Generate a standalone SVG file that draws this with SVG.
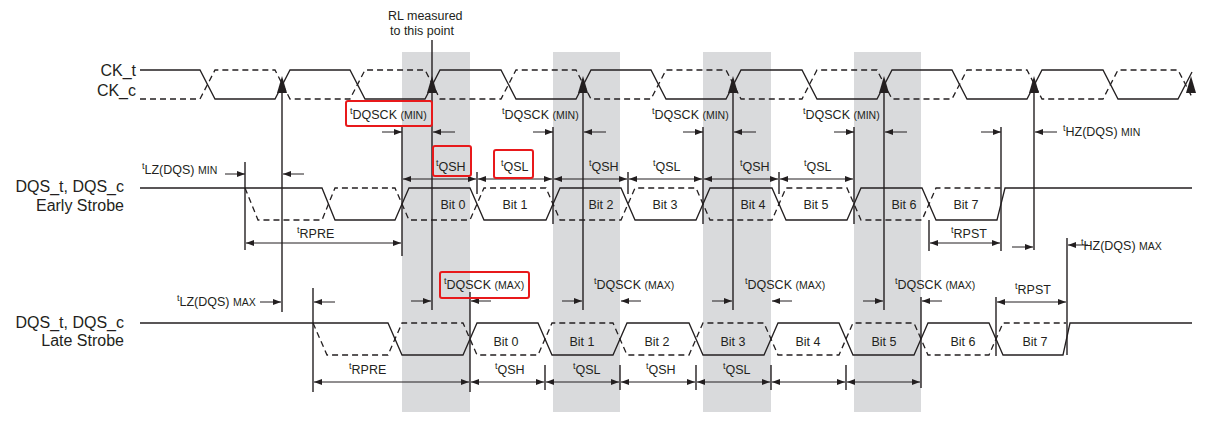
<svg xmlns="http://www.w3.org/2000/svg" width="1225" height="427" viewBox="0 0 1225 427">
<style>
text{font-family:"Liberation Sans",Arial,sans-serif;fill:#231f20;font-size:12.5px}
.lbl{font-size:16px}
.s{font-size:9px}
.m{font-size:10.5px}
.w{fill:none;stroke:#231f20;stroke-width:1.3}
.d{fill:none;stroke:#231f20;stroke-width:1.3;stroke-dasharray:6,4}
.v{stroke:#231f20;stroke-width:1.4}
.a{stroke:#231f20;stroke-width:1;marker-end:url(#ah)}
.aa{stroke:#231f20;stroke-width:1;marker-end:url(#ah);marker-start:url(#ah)}
.sh{fill:#d9dadc}
.rb{fill:none;stroke:#e8191b;stroke-width:2}
</style>
<defs>
<marker id="ah" markerUnits="userSpaceOnUse" markerWidth="9" markerHeight="6" refX="8" refY="3" orient="auto-start-reverse"><path d="M0,0 L8,3 L0,6 z" fill="#231f20"/></marker>
</defs>
<g id="shading">
<rect class="sh" x="402" y="52" width="68" height="360"/>
<rect class="sh" x="553" y="52" width="67" height="360"/>
<rect class="sh" x="703" y="52" width="68" height="360"/>
<rect class="sh" x="854" y="52" width="67" height="360"/>
</g>
<g id="labels">
<text x="388" y="20" font-size="13">RL measured</text>
<text x="390" y="35" font-size="13">to this point</text>
<text class="lbl" x="136" y="76" text-anchor="end">CK_t</text>
<text class="lbl" x="136" y="96" text-anchor="end">CK_c</text>
<text class="lbl" x="124" y="192" text-anchor="end">DQS_t, DQS_c</text>
<text class="lbl" x="124" y="211" text-anchor="end">Early Strobe</text>
<text class="lbl" x="124" y="328" text-anchor="end">DQS_t, DQS_c</text>
<text class="lbl" x="124" y="346" text-anchor="end">Late Strobe</text>
</g>
<g id="ck">
<path class="w" d="M140,70 L200,70 L215,99 L275,99 L290,70 L350,70 L365,99 L425,99 L440,70 L501,70 L516,99 L576,99 L591,70 L651,70 L666,99 L726,99 L741,70 L802,70 L817,99 L877,99 L892,70 L952,70 L967,99 L1027,99 L1042,70 L1103,70 L1118,99 L1178,99 L1192,72"/>
<path class="d" d="M140,99 L200,99 L215,70 L275,70 L290,99 L350,99 L365,70 L425,70 L440,99 L501,99 L516,70 L576,70 L591,99 L651,99 L666,70 L726,70 L741,99 L802,99 L817,70 L877,70 L892,99 L952,99 L967,70 L1027,70 L1042,99 L1103,99 L1118,70 L1178,70 L1192,97"/>
</g>
<g id="early">
<path class="w" d="M140,188 L322,188 L335,220 L395,220 L409,188 L470,188 L484,220 L546,220 L560,188 L621,188 L635,220 L696,220 L710,188 L772,188 L786,220 L847,220 L861,188 L922,188 L936,220 L997,220 L1005,188 L1192,188"/>
<path class="d" d="M245,188 L258,220 L322,220 L335,188 L395,188 L409,220 L470,220 L484,188 L546,188 L560,220 L621,220 L635,188 L696,188 L710,220 L772,220 L786,188 L847,188 L861,220 L922,220 L936,188 L1001,188"/>
<text x="453" y="209" text-anchor="middle">Bit 0</text>
<text x="515" y="209" text-anchor="middle">Bit 1</text>
<text x="601" y="209" text-anchor="middle">Bit 2</text>
<text x="665" y="209" text-anchor="middle">Bit 3</text>
<text x="753" y="209" text-anchor="middle">Bit 4</text>
<text x="816" y="209" text-anchor="middle">Bit 5</text>
<text x="904" y="209" text-anchor="middle">Bit 6</text>
<text x="966" y="209" text-anchor="middle">Bit 7</text>
</g>
<g id="late">
<path class="w" d="M140,323 L388,323 L402,355 L463,355 L477,323 L538,323 L552,355 L613,355 L627,323 L689,323 L703,355 L764,355 L778,323 L839,323 L853,355 L914,355 L928,323 L989,323 L1003,355 L1063,355 L1070,323 L1192,323"/>
<path class="d" d="M313,323 L327,355 L388,355 L402,323 L463,323 L477,355 L538,355 L552,323 L613,323 L627,355 L689,355 L703,323 L764,323 L778,355 L839,355 L853,323 L914,323 L928,355 L989,355 L1003,323 L1066,323"/>
<text x="506" y="346" text-anchor="middle">Bit 0</text>
<text x="582" y="346" text-anchor="middle">Bit 1</text>
<text x="657" y="346" text-anchor="middle">Bit 2</text>
<text x="733" y="346" text-anchor="middle">Bit 3</text>
<text x="808" y="346" text-anchor="middle">Bit 4</text>
<text x="884" y="346" text-anchor="middle">Bit 5</text>
<text x="963" y="346" text-anchor="middle">Bit 6</text>
<text x="1035" y="346" text-anchor="middle">Bit 7</text>
</g>
<g id="connectors">
<line class="v" x1="282" y1="86" x2="282" y2="312"/>
<line class="v" x1="432" y1="40" x2="432" y2="310"/>
<line class="v" x1="583" y1="86" x2="583" y2="310"/>
<line class="v" x1="733" y1="86" x2="733" y2="310"/>
<line class="v" x1="884" y1="86" x2="884" y2="310"/>
<line class="v" x1="1034" y1="86" x2="1034" y2="250"/>
<polygon points="282,76 277,93 287,93" fill="#231f20"/>
<polygon points="432,76 427,93 437,93" fill="#231f20"/>
<polygon points="583,76 578,93 588,93" fill="#231f20"/>
<polygon points="733,76 728,93 738,93" fill="#231f20"/>
<polygon points="884,76 879,93 889,93" fill="#231f20"/>
<polygon points="1034,76 1029,93 1039,93" fill="#231f20"/>
<polygon points="1191,76 1186,93 1196,93" fill="#231f20"/>
<line class="v" x1="245" y1="162" x2="245" y2="250"/>
<line class="v" x1="402" y1="127" x2="402" y2="256"/>
<line class="v" x1="553" y1="127" x2="553" y2="224"/>
<line class="v" x1="703" y1="127" x2="703" y2="224"/>
<line class="v" x1="854" y1="127" x2="854" y2="224"/>
<line class="v" x1="477" y1="172" x2="477" y2="194"/>
<line class="v" x1="628" y1="172" x2="628" y2="194"/>
<line class="v" x1="779" y1="172" x2="779" y2="194"/>
<line class="v" x1="929" y1="220" x2="929" y2="251"/>
<line class="v" x1="1001" y1="127" x2="1001" y2="251"/>
<line class="v" x1="313" y1="288" x2="313" y2="392"/>
<line class="v" x1="470" y1="292" x2="470" y2="392"/>
<line class="v" x1="545" y1="365" x2="545" y2="390"/>
<line class="v" x1="620" y1="365" x2="620" y2="390"/>
<line class="v" x1="696" y1="365" x2="696" y2="390"/>
<line class="v" x1="771" y1="365" x2="771" y2="390"/>
<line class="v" x1="846" y1="365" x2="846" y2="390"/>
<line class="v" x1="921" y1="297" x2="921" y2="388"/>
<line class="v" x1="996" y1="297" x2="996" y2="356"/>
<line class="v" x1="1067" y1="238" x2="1067" y2="355"/>
<line class="a" x1="382" y1="132" x2="402" y2="132"/><line class="a" x1="455" y1="132" x2="433" y2="132"/>
<line class="a" x1="533" y1="132" x2="553" y2="132"/><line class="a" x1="606" y1="132" x2="584" y2="132"/>
<line class="a" x1="683" y1="132" x2="703" y2="132"/><line class="a" x1="756" y1="132" x2="734" y2="132"/>
<line class="a" x1="834" y1="132" x2="854" y2="132"/><line class="a" x1="907" y1="132" x2="885" y2="132"/>
<line class="a" x1="981" y1="132" x2="1001" y2="132"/><line class="a" x1="1057" y1="132" x2="1035" y2="132"/>
<line class="a" x1="225" y1="174" x2="245" y2="174"/><line class="a" x1="304" y1="174" x2="283" y2="174"/>
<line class="aa" x1="403" y1="179" x2="476" y2="179"/>
<line class="aa" x1="478" y1="179" x2="552" y2="179"/>
<line class="aa" x1="554" y1="179" x2="627" y2="179"/>
<line class="aa" x1="629" y1="179" x2="702" y2="179"/>
<line class="aa" x1="704" y1="179" x2="778" y2="179"/>
<line class="aa" x1="780" y1="179" x2="853" y2="179"/>
<line class="aa" x1="246" y1="243" x2="401" y2="243"/>
<line class="aa" x1="930" y1="243" x2="1000" y2="243"/>
<line class="a" x1="1012" y1="247" x2="1033" y2="247"/>
<line class="a" x1="260" y1="302" x2="281" y2="302"/><line class="a" x1="335" y1="302" x2="314" y2="302"/>
<line class="a" x1="411" y1="301" x2="431" y2="301"/><line class="a" x1="491" y1="301" x2="471" y2="301"/>
<line class="a" x1="562" y1="301" x2="582" y2="301"/><line class="a" x1="641" y1="301" x2="621" y2="301"/>
<line class="a" x1="712" y1="301" x2="732" y2="301"/><line class="a" x1="792" y1="301" x2="772" y2="301"/>
<line class="a" x1="863" y1="301" x2="883" y2="301"/><line class="a" x1="942" y1="301" x2="922" y2="301"/>
<line class="aa" x1="997" y1="302" x2="1066" y2="302"/>
<line class="a" x1="1088" y1="245" x2="1068" y2="245"/>
<line class="aa" x1="314" y1="382" x2="469" y2="382"/>
<line class="aa" x1="471" y1="382" x2="544" y2="382"/>
<line class="aa" x1="546" y1="382" x2="619" y2="382"/>
<line class="aa" x1="621" y1="382" x2="695" y2="382"/>
<line class="aa" x1="697" y1="382" x2="770" y2="382"/>
<line class="aa" x1="772" y1="382" x2="845" y2="382"/>
<line class="aa" x1="847" y1="382" x2="920" y2="382"/>
</g>
<g id="timing-labels">
<text x="350" y="119"><tspan class="s" dy="-5">t</tspan><tspan dy="5">DQSCK </tspan><tspan class="m">(MIN)</tspan></text>
<text x="502" y="119"><tspan class="s" dy="-5">t</tspan><tspan dy="5">DQSCK </tspan><tspan class="m">(MIN)</tspan></text>
<text x="652" y="119"><tspan class="s" dy="-5">t</tspan><tspan dy="5">DQSCK </tspan><tspan class="m">(MIN)</tspan></text>
<text x="803" y="119"><tspan class="s" dy="-5">t</tspan><tspan dy="5">DQSCK </tspan><tspan class="m">(MIN)</tspan></text>
<text x="1063" y="136"><tspan class="s" dy="-5">t</tspan><tspan dy="5">HZ(DQS) </tspan><tspan class="m">MIN</tspan></text>
<text x="142" y="174"><tspan class="s" dy="-5">t</tspan><tspan dy="5">LZ(DQS) </tspan><tspan class="m">MIN</tspan></text>
<text x="436" y="171"><tspan class="s" dy="-5">t</tspan><tspan dy="5">QSH</tspan></text>
<text x="501" y="171"><tspan class="s" dy="-5">t</tspan><tspan dy="5">QSL</tspan></text>
<text x="589" y="171"><tspan class="s" dy="-5">t</tspan><tspan dy="5">QSH</tspan></text>
<text x="653" y="171"><tspan class="s" dy="-5">t</tspan><tspan dy="5">QSL</tspan></text>
<text x="740" y="171"><tspan class="s" dy="-5">t</tspan><tspan dy="5">QSH</tspan></text>
<text x="804" y="171"><tspan class="s" dy="-5">t</tspan><tspan dy="5">QSL</tspan></text>
<text x="297" y="238"><tspan class="s" dy="-5">t</tspan><tspan dy="5">RPRE</tspan></text>
<text x="951" y="238"><tspan class="s" dy="-5">t</tspan><tspan dy="5">RPST</tspan></text>
<text x="1081" y="250"><tspan class="s" dy="-5">t</tspan><tspan dy="5">HZ(DQS) </tspan><tspan class="m">MAX</tspan></text>
<text x="177" y="306"><tspan class="s" dy="-5">t</tspan><tspan dy="5">LZ(DQS) </tspan><tspan class="m">MAX</tspan></text>
<text x="444" y="289"><tspan class="s" dy="-5">t</tspan><tspan dy="5">DQSCK </tspan><tspan class="m">(MAX)</tspan></text>
<text x="594" y="289"><tspan class="s" dy="-5">t</tspan><tspan dy="5">DQSCK </tspan><tspan class="m">(MAX)</tspan></text>
<text x="745" y="289"><tspan class="s" dy="-5">t</tspan><tspan dy="5">DQSCK </tspan><tspan class="m">(MAX)</tspan></text>
<text x="895" y="289"><tspan class="s" dy="-5">t</tspan><tspan dy="5">DQSCK </tspan><tspan class="m">(MAX)</tspan></text>
<text x="1015" y="294"><tspan class="s" dy="-5">t</tspan><tspan dy="5">RPST</tspan></text>
<text x="349" y="374"><tspan class="s" dy="-5">t</tspan><tspan dy="5">RPRE</tspan></text>
<text x="495" y="374"><tspan class="s" dy="-5">t</tspan><tspan dy="5">QSH</tspan></text>
<text x="573" y="374"><tspan class="s" dy="-5">t</tspan><tspan dy="5">QSL</tspan></text>
<text x="646" y="374"><tspan class="s" dy="-5">t</tspan><tspan dy="5">QSH</tspan></text>
<text x="723" y="374"><tspan class="s" dy="-5">t</tspan><tspan dy="5">QSL</tspan></text>
</g>
<g id="highlights">
<rect class="rb" x="346" y="101" width="86" height="25" rx="2"/>
<rect class="rb" x="433" y="146" width="38" height="30" rx="2"/>
<rect class="rb" x="494" y="150" width="39" height="28" rx="2"/>
<rect class="rb" x="440" y="272" width="89" height="26" rx="2"/>
</g>
</svg>
